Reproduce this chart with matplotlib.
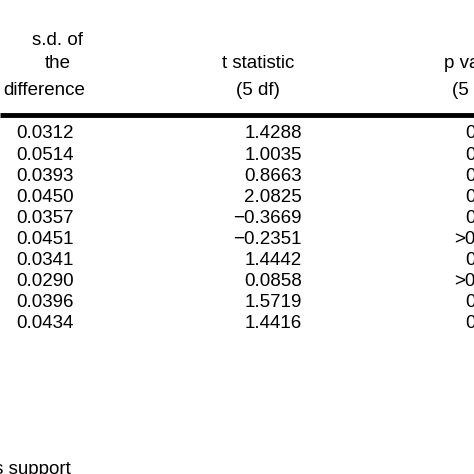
import matplotlib
matplotlib.use("Agg")
import matplotlib.pyplot as plt

sd_diff = ["0.0312","0.0514","0.0393","0.0450","0.0357","0.0451","0.0341","0.0290","0.0396","0.0434"]
t_stat = ["1.4288","1.0035","0.8663","2.0825","\u22120.3669","\u22120.2351","1.4442","0.0858","1.5719","1.4416"]
p_val = ["0.09","0.17","0.20","0.04","0.36",">0.40","0.09",">0.40","0.08","0.09"]
headers = [["s.d. of","the","difference"],["t statistic","(5 df)"],["p value","(5 df)"]]

fig = plt.figure(figsize=(4.74,4.74), dpi=100)
ax = fig.add_axes([0,0,1,1])
ax.set_xlim(0,474); ax.set_ylim(474,0); ax.axis("off")
fs = 13.5
fam = "Liberation Sans"
kw = dict(fontsize=fs, family=fam, va="center", clip_on=False)
# headers
ax.text(58,40,headers[0][0],ha="center",**kw)
ax.text(58,63,headers[0][1],ha="center",**kw)
ax.text(44,90,headers[0][2],ha="center",**kw)
ax.text(258,63,headers[1][0],ha="center",**kw)
ax.text(258,90,headers[1][1],ha="center",**kw)
ax.text(474,63,headers[2][0],ha="center",**kw)
ax.text(474,90,headers[2][1],ha="center",**kw)
ax.plot([0,474],[115,115],color="black",lw=3.5,solid_capstyle="butt")
y0, dy = 134, 21.1
for i,(a,b,c) in enumerate(zip(sd_diff,t_stat,p_val)):
    y = y0+i*dy
    ax.text(74,y,a,ha="right",**kw)
    ax.text(302,y,b,ha="right",**kw)
    ax.text(502,y,c,ha="right",**kw)
ax.text(-10,470,"is support",ha="left",**kw)
fig.savefig("out.png",dpi=100)
